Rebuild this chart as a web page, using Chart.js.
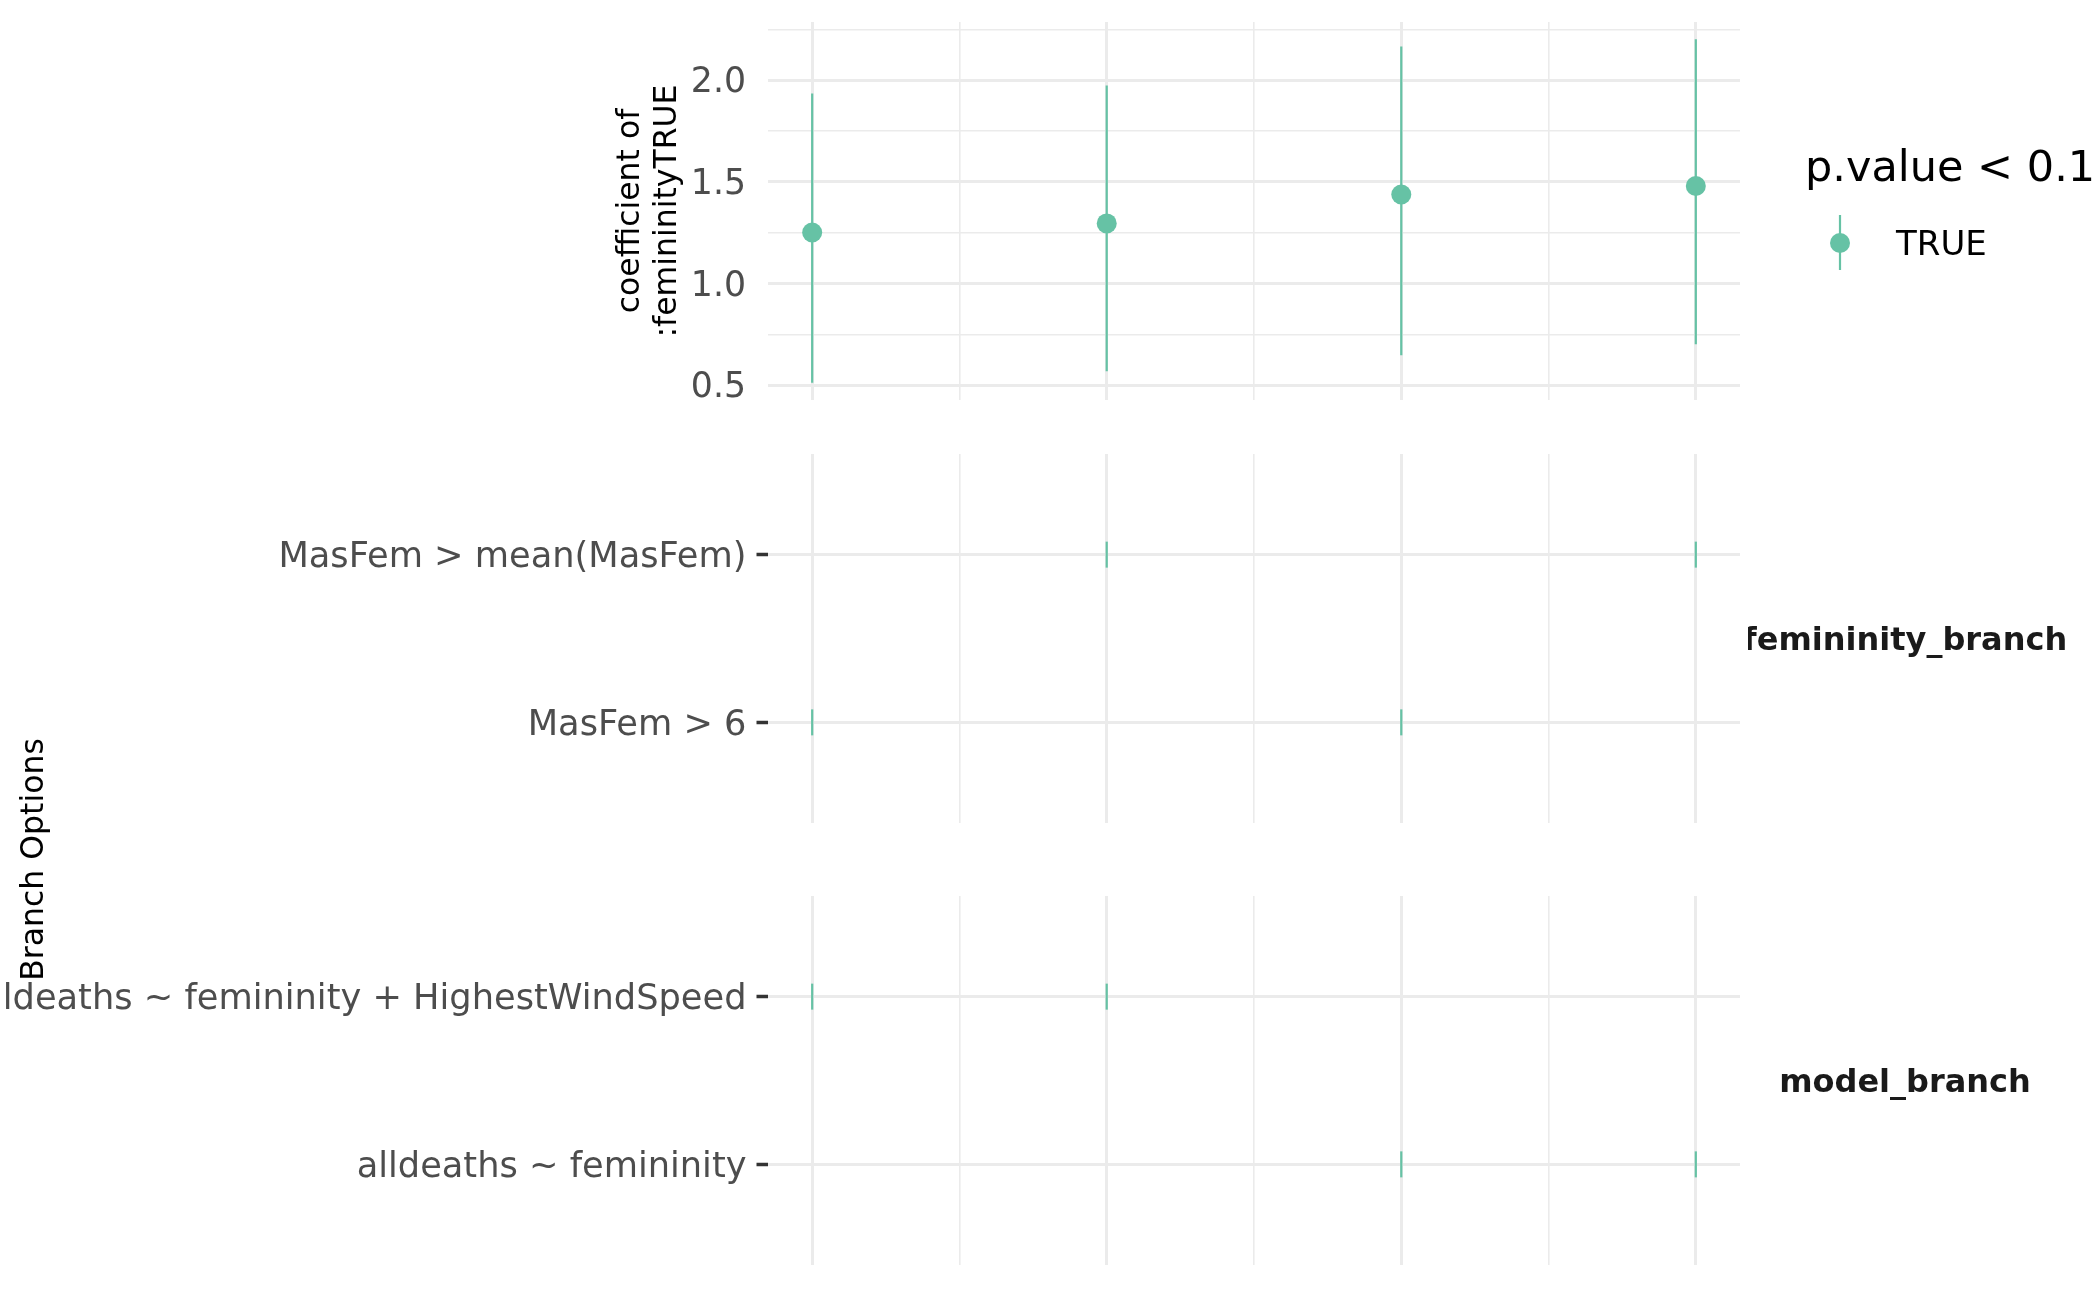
<!DOCTYPE html>
<html><head><meta charset="utf-8">
<script src="https://cdn.jsdelivr.net/npm/chart.js@4.4.1/dist/chart.umd.min.js"></script>
<style>
html,body{margin:0;padding:0;background:#fff;}
#wrap{position:relative;width:2100px;height:1298px;overflow:hidden;background:#fff;}
canvas{position:absolute;left:0;top:0;}
</style></head><body>
<div id="wrap">
<canvas id="c1" width="2100" height="1298"></canvas>
<canvas id="c2" width="2100" height="1298"></canvas>
<canvas id="c3" width="2100" height="1298"></canvas>
</div>
<script>
// ---------- data ----------
const specIds = [1, 2, 3, 4];
const estimates = [1.251, 1.296, 1.438, 1.480];
const confLow = [0.512, 0.569, 0.648, 0.702];
const confHigh = [1.935, 1.974, 2.166, 2.202];
const significant = [true, true, true, true];

const coefBreaks = [0.5, 1.0, 1.5, 2.0];
const coefMinorBreaks = [0.75, 1.25, 1.75, 2.25];
const coefTickLabels = ["0.5", "1.0", "1.5", "2.0"];

const femininityOptions = ["MasFem > mean(MasFem)", "MasFem > 6"];
const femininityChoice = [2, 1, 2, 1];   // option index (1-based) used by each spec
const modelOptions = ["alldeaths ~ femininity + HighestWindSpeed", "alldeaths ~ femininity"];
const modelChoice = [1, 1, 2, 2];

const yTitleTop = ["coefficient of", ":femininityTRUE"];
const yTitleBottom = "Branch Options";
const stripLabels = ["femininity_branch", "model_branch"];
const legendTitle = "p.value < 0.1";
const legendLabels = ["TRUE"];

// ---------- styling ----------
const GREEN = '#66c2a5';
const GRID = '#ebebeb';
const FONT = "'DejaVu Sans'";
const CW = 2100, CH = 1298;
const PLOT_LEFT = 768, PLOT_RIGHT = 1740;
Chart.defaults.font.family = FONT;
Chart.defaults.color = '#4d4d4d';

const xMin = Math.min(...specIds), xMax = Math.max(...specIds);
const xPad = (xMax - xMin) * 0.05;
const xMajor = specIds.slice();
const xMinor = specIds.slice(1).map((v, i) => (v + specIds[i]) / 2);
const xGridValues = xMajor.concat(xMinor);

function noScalePadding(s) {
  s.paddingTop = 0; s.paddingBottom = 0; s.paddingLeft = 0; s.paddingRight = 0;
}

function xAxis() {
  return {
    type: 'linear', min: xMin - xPad, max: xMax + xPad,
    afterBuildTicks: s => { s.ticks = xGridValues.map(v => ({value: v})); },
    afterFit: s => { s.height = 0; noScalePadding(s); },
    ticks: {display: false},
    border: {display: false},
    grid: {color: GRID, drawTicks: false,
      lineWidth: c => (c.tick && xMajor.includes(c.tick.value)) ? 3 : 1.6}
  };
}

// ---------- chart 1: coefficients ----------
const lo = Math.min(...confLow), hi = Math.max(...confHigh);
const yPad = (hi - lo) * 0.05;
const errData = [];
specIds.forEach((s, i) => {
  errData.push({x: s, y: confLow[i]}, {x: s, y: confHigh[i]}, {x: s, y: null});
});

const legendPlugin = {
  id: 'pvLegend',
  afterDraw(chart) {
    const ctx = chart.ctx, r = chart.chartArea.right;
    ctx.save();
    ctx.fillStyle = '#000';
    ctx.textAlign = 'left'; ctx.textBaseline = 'alphabetic';
    ctx.font = `43px ${FONT}`;
    ctx.fillText(legendTitle, r + 65, 181);
    const kx = r + 100, ky = 243;
    ctx.strokeStyle = GREEN; ctx.lineWidth = 2.2;
    ctx.beginPath(); ctx.moveTo(kx, ky - 28); ctx.lineTo(kx, ky + 27); ctx.stroke();
    ctx.fillStyle = GREEN;
    ctx.beginPath(); ctx.arc(kx, ky, 10, 0, Math.PI * 2); ctx.fill();
    ctx.fillStyle = '#000';
    ctx.font = `34px ${FONT}`;
    ctx.fillText(legendLabels[0], r + 156, 255);
    ctx.restore();
  }
};

const chart1 = new Chart(document.getElementById('c1'), {
  type: 'scatter',
  data: {
    datasets: [
      {label: 'p.value < 0.1', data: specIds.map((s, i) => ({x: s, y: estimates[i]})),
       pointRadius: 10, pointHoverRadius: 10, pointBorderWidth: 0,
       backgroundColor: significant.map(() => GREEN), borderColor: GREEN, order: 0},
      {label: 'ci', type: 'line', data: errData, showLine: true, spanGaps: false,
       pointRadius: 0, borderWidth: 2.2, borderColor: GREEN, order: 1}
    ]
  },
  options: {
    responsive: false, animation: false, devicePixelRatio: 1, events: [],
    layout: {padding: {left: 612, right: CW - PLOT_RIGHT, top: 22, bottom: CH - 400}},
    plugins: {legend: {display: false}, tooltip: {enabled: false}},
    scales: {
      x: xAxis(),
      y: {
        type: 'linear', min: lo - yPad, max: hi + yPad,
        afterBuildTicks: s => { s.ticks = coefBreaks.concat(coefMinorBreaks).map(v => ({value: v})); },
        afterFit: s => { s.width = PLOT_LEFT - 612; noScalePadding(s); },
        ticks: {padding: 22, labelOffset: 3, font: {size: 34.7}, color: '#4d4d4d',
          callback: v => { const k = coefBreaks.indexOf(v); return k >= 0 ? coefTickLabels[k] : ''; }},
        border: {display: false},
        grid: {color: GRID, drawTicks: false,
          lineWidth: c => (c.tick && coefBreaks.includes(c.tick.value)) ? 3 : 1.6},
        title: {display: true, text: yTitleTop, color: '#000', padding: 0,
          font: {size: 31.5, lineHeight: 1.175}}
      }
    }
  },
  plugins: [legendPlugin]
});

// ---------- charts 2 & 3: branch options ----------
const stripPlugin = {
  id: 'strip',
  afterDraw(chart, args, opts) {
    const ctx = chart.ctx, a = chart.chartArea;
    ctx.save();
    ctx.beginPath(); ctx.rect(a.right + 8, a.top, CW - a.right - 8, a.bottom - a.top); ctx.clip();
    ctx.fillStyle = '#1a1a1a';
    ctx.font = `bold 32px ${FONT}`;
    ctx.textAlign = 'center'; ctx.textBaseline = 'middle';
    ctx.fillText(opts.text, a.right + 165, (a.top + a.bottom) / 2 + 3);
    ctx.restore();
  }
};

let chart2 = null;
const branchTitlePlugin = {
  id: 'branchTitle',
  afterDraw(chart) {
    if (!chart2) return;
    const ctx = chart.ctx;
    const cy = (chart2.chartArea.top + chart.chartArea.bottom) / 2;
    ctx.save();
    ctx.translate(35, cy); ctx.rotate(-Math.PI / 2);
    ctx.fillStyle = '#000';
    ctx.font = `31.5px ${FONT}`;
    ctx.textAlign = 'center'; ctx.textBaseline = 'middle';
    ctx.fillText(yTitleBottom, 0, 0);
    ctx.restore();
  }
};

function branchChart(id, options, choice, top, bottom, strip, extraPlugins) {
  return new Chart(document.getElementById(id), {
    type: 'scatter',
    data: {
      datasets: [{
        label: strip, data: specIds.map((s, i) => ({x: s, y: choice[i]})),
        pointStyle: 'line', pointRotation: 90, pointRadius: 13, pointHoverRadius: 13,
        pointBorderWidth: 2.2, pointHoverBorderWidth: 2.2, borderColor: GREEN, backgroundColor: GREEN
      }]
    },
    options: {
      responsive: false, animation: false, devicePixelRatio: 1, events: [],
      layout: {padding: {left: 0, right: CW - PLOT_RIGHT, top: top, bottom: CH - bottom}},
      plugins: {legend: {display: false}, tooltip: {enabled: false}, strip: {text: strip}},
      scales: {
        x: xAxis(),
        y: {
          type: 'linear', reverse: true, min: 0.4, max: options.length + 0.6,
          afterBuildTicks: s => { s.ticks = options.map((o, k) => ({value: k + 1})); },
          afterFit: s => { s.width = PLOT_LEFT; noScalePadding(s); },
          ticks: {padding: 10, labelOffset: 3, font: {size: 35.2}, color: '#4d4d4d', autoSkip: false,
            callback: v => options[v - 1] || ''},
          border: {display: false},
          grid: {color: GRID, lineWidth: 3, drawTicks: true, tickLength: 11.5,
            tickColor: '#333333', tickWidth: 3.5}
        }
      }
    },
    plugins: [stripPlugin].concat(extraPlugins)
  });
}

chart2 = branchChart('c2', femininityOptions, femininityChoice, 454, 823, stripLabels[0], []);
const chart3 = branchChart('c3', modelOptions, modelChoice, 896, 1265, stripLabels[1], [branchTitlePlugin]);
</script>
</body></html>
